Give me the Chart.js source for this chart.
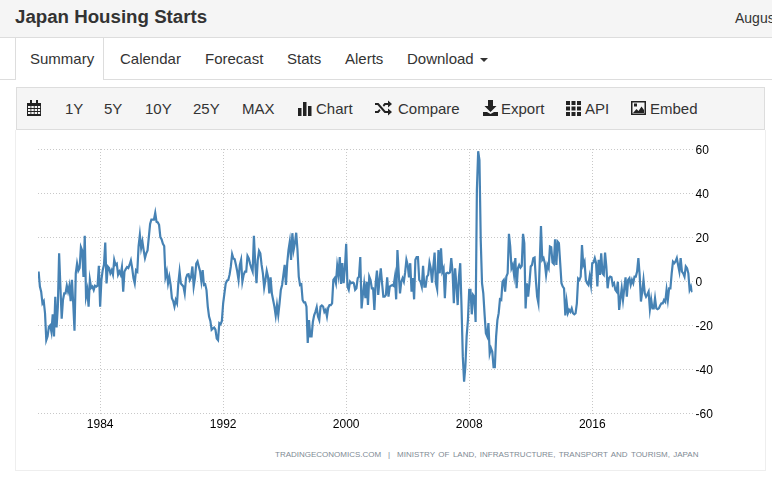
<!DOCTYPE html>
<html>
<head>
<meta charset="utf-8">
<title>Japan Housing Starts</title>
<script src="https://cdn.jsdelivr.net/npm/chart.js@4/dist/chart.umd.min.js"></script>
<style>
  html, body { margin: 0; padding: 0; background: #fff; overflow: hidden; }
  body { width: 772px; height: 477px; position: relative; font-family: "Liberation Sans", Arial, sans-serif; color: #333; }
  #header { position: absolute; left: 0; top: 0; width: 772px; height: 37px; background: #f5f5f5; border-bottom: 1px solid #ddd; overflow: hidden; }
  #title { position: absolute; left: 15px; top: 6px; font-size: 18.7px; line-height: 22px; font-weight: bold; color: #333; }
  #date { position: absolute; left: 735px; top: 9px; font-size: 14px; line-height: 18px; white-space: nowrap; }
  #tabline { position: absolute; left: 0; top: 79px; width: 772px; height: 0; border-top: 1px solid #ddd; }
  #activetab { position: absolute; left: 15px; top: 38px; width: 89px; height: 42px; background: #fff; border-left: 1px solid #ddd; border-right: 1px solid #ddd; box-sizing: border-box; }
  .nav { position: absolute; top: 49px; font-size: 15px; line-height: 19px; white-space: nowrap; }
  #caret { position: absolute; left: 480px; top: 58px; width: 0; height: 0; border-left: 4px solid transparent; border-right: 4px solid transparent; border-top: 4px solid #333; }
  #toolbar { position: absolute; left: 16px; top: 87px; width: 749px; height: 43px; box-sizing: border-box; background: #f5f5f5; border: 1px solid #ddd; }
  .tool { position: absolute; top: 99px; font-size: 15px; line-height: 19px; white-space: nowrap; }
  svg.icon { position: absolute; top: 100px; fill: #222; }
  #panel { position: absolute; left: 15px; top: 130px; width: 751px; height: 341px; box-sizing: border-box; border: 1px solid #eee; border-top: 0; }
  #box { position: absolute; left: 0; top: 130px; width: 772px; height: 310px; }
  #source { position: absolute; left: 275px; top: 450px; font-size: 8px; line-height: 10px; color: #808a94; letter-spacing: 0; word-spacing: 1.2px; white-space: nowrap; }
</style>
</head>
<body>
<div id="header">
  <div id="title">Japan Housing Starts</div>
  <div id="date">August</div>
</div>
<div id="tabline"></div>
<div id="activetab"></div>
<span class="nav" style="left:30px">Summary</span>
<span class="nav" style="left:120px">Calendar</span>
<span class="nav" style="left:205px">Forecast</span>
<span class="nav" style="left:287px">Stats</span>
<span class="nav" style="left:345px">Alerts</span>
<span class="nav" style="left:407px">Download</span>
<div id="caret"></div>

<div id="toolbar"></div>
<svg class="icon" style="left:27px" width="14" height="16" viewBox="0 0 14 16"><path d="M0 3h14v13H0zM3 0h2v3H3zM9 0h2v3H9z"/><path fill="#f5f5f5" d="M1 6h2.5v2H1zM4.300 6h2.500v2H4.300zM7.600 6h2.500v2H7.600zM10.900 6h2.200v2h-2.200zM1 9h2.500v2H1zM4.300 9h2.500v2H4.300zM7.600 9h2.500v2H7.600zM10.900 9h2.200v2h-2.200zM1 12h2.500v2H1zM4.300 12h2.500v2H4.300zM7.600 12h2.500v2H7.600zM10.900 12h2.200v2h-2.200z"/></svg>
<span class="tool" style="left:65px">1Y</span>
<span class="tool" style="left:104px">5Y</span>
<span class="tool" style="left:145px">10Y</span>
<span class="tool" style="left:193px">25Y</span>
<span class="tool" style="left:242px">MAX</span>
<svg class="icon" style="left:298px" width="15" height="16" viewBox="0 0 15 16"><path d="M0 8h3.500v8H0zM5 2h3.500v14H5zM10 6h3.500v10H10z"/></svg>
<span class="tool" style="left:316px">Chart</span>
<svg class="icon" style="left:375px" width="17" height="16" viewBox="0 0 17 16"><path d="M0 3h3.500l7 8H13V8.500L17 12l-4 3.500V13H9.500l-7-8H0zM13 .5 17 4l-4 3.500V5h-2.500L9 6.800 7.700 5.300 9.500 3H13zM0 11h2.500l1.800-2.100 1.300 1.500L3.500 13H0z"/></svg>
<span class="tool" style="left:398px">Compare</span>
<svg class="icon" style="left:483px" width="15" height="16" viewBox="0 0 15 16"><path d="M5 0h5v6h3.500L7.500 12 1.500 6H5zM0 12h4l3.500 2 3.500-2h4v4H0z"/></svg>
<span class="tool" style="left:501px">Export</span>
<svg class="icon" style="left:566px" width="15" height="16" viewBox="0 0 15 16"><path d="M0 1h4v4H0zM5.500 1h4v4h-4zM11 1h4v4h-4zM0 6.500h4v4H0zM5.500 6.500h4v4h-4zM11 6.500h4v4h-4zM0 12h4v4H0zM5.500 12h4v4h-4zM11 12h4v4h-4z"/></svg>
<span class="tool" style="left:585px">API</span>
<svg class="icon" style="left:631px" width="15" height="16" viewBox="0 0 15 16"><path d="M0 1h15v14H0z"/><path fill="#f5f5f5" d="M1.500 2.500h12v11h-12z"/><path d="M2 13l3.500-4 2 2 3-4.500 2.500 3.500V13zM3 3.500h3v3H3z"/></svg>
<span class="tool" style="left:650px">Embed</span>

<div id="panel"></div>
<div id="box"><canvas id="myChart" width="772" height="310"></canvas></div>
<div id="source">TRADINGECONOMICS.COM &nbsp;|&nbsp; MINISTRY OF LAND, INFRASTRUCTURE, TRANSPORT AND TOURISM, JAPAN</div>

<script>
// year over year change, one row per year from january
const values1980s = [
  4.4,-2.4,-4.7,-10,-9,-14.5,-26.7,-25,-20.6,-20,-23,-15,
  -25,-7,-21,-11.5,12.7,-2.4,-17,-8.5,-5.5,-5.5,-2,-4.7,
  -2,-9,0.6,-10,-22.4,3.6,8,4.8,6,15.5,14,2,
  20.6,-7,-4,-11.5,0.6,-3,-2.4,-4,-2,-2.4,-2,7,
  -11.5,0.6,5,7.5,17.6,-1,6.7,6,3.6,5,3,9.7,
  7.5,8,3,4.4,3,6.4,-4.7,4.4,5.5,6.4,6,7.5,
  9.4,6,1.4,-1,5,4.4,15.8,21,15,18,14,10.5,
  12.7,14,20,26,28,28,28,31,27,26.7,25.6,20,
  19,17,16,2,4.4,-1,2,-1.7,-7.7,-9,-11.5,-8.5,
  -10,-1,4.4,-1,-1.7,-2.4,-5.5,1.4,3,3.2,0.6,2
];
const values1990s = [
  6.7,-2.4,1.4,8,9,6.7,4.4,0,5.1,-1.7,-1.4,-4,
  -11.5,-16,-18,-22,-21.4,-21,-22,-26,-26.7,-19,-19.5,-18,
  -10,-5.5,-1,0.3,0.6,3,6.7,12.3,10.3,10,7.4,4.4,
  0.6,7.4,9.7,-0.2,2.9,4.4,4.4,11.5,10.4,7.9,6,4.4,
  20.6,8.2,-0.9,9.7,13.8,12.7,7.4,3.6,-2.9,0.6,4.7,2.1,
  -5.5,1.8,-5.5,-8.5,-11.5,-15.6,-10.8,-15.3,-10,-3.9,-1.7,2.9,
  7.4,-1.7,8.2,14.2,18,9.7,21.8,14.2,17.3,22,14.2,2.1,
  -1.7,-1.4,-8.5,-9.6,-9.6,-11.5,-28,-17.6,-25,-25,-18.5,-15.5,
  -13.9,-11.8,-16,-17.6,-11.5,-11,-11.5,-13.9,-13,-16,-12,-10.8,
  -10.8,-10,0.6,1.4,-0.9,7,2.9,11,-1.2,8.2,-0.9,6
];
const values2000s = [
  17,-2.4,-3.9,-0.2,-0.9,-0.6,-0.9,-3.9,-3.2,1.4,2.1,11,
  -12.3,-6.2,-1.2,-7.7,-0.2,-10.8,2.1,0.6,-3.2,-3.2,-13,-0.9,
  4.8,-6.2,0.6,5.9,-0.9,-7,-7,-6.2,1.8,-7,-2.4,-2,
  -1.7,-2.1,1.8,-8.2,14.2,3.6,-5.5,-0.2,1.4,-0.2,4,9.7,
  7.4,1.8,8.2,-4.7,1.4,-8.2,9.7,11,11,0.6,-0.2,-2.4,
  7,-2.4,-2.4,2.1,2.9,8.5,5.9,-0.6,6.7,13,-0.9,-3.6,
  14.2,3.6,15,4.4,5.9,-7.7,3.6,3.9,3.6,4,10.5,4.4,
  -10,5.9,-1.7,-10.8,2,8.2,-11.5,-34.2,-45.6,-38.8,-25,-17.6,
  -3.9,-3.9,-15,-6.2,-7,-18.5,41.5,59,55,18.5,-0.9,-5.5,
  -15,-23.6,-25,-19,-32.7,-30.4,-32,-39,-39,-25,-17.6,-14.5
];
const values2010s = [
  -8.2,-8.5,-0.2,0.6,-4.7,2.1,3.6,21.5,15.8,5.9,7.4,2.9,
  10.5,-3.2,5.9,7.4,6.2,7,21.5,17.3,-12.3,-0.9,-7,-0.9,
  6.7,7.4,10.5,10.8,0.6,-7,-10,8,25,9.7,10.5,8.2,
  2.9,7.4,5.9,15.8,15.5,8.5,7.9,19,7.4,18,17.3,8.2,
  -0.9,-2.4,-3.2,-15.5,-9.3,-14.5,-13,-13.9,-12.3,-14.5,-15,-14.5,
  -10,1.2,0.6,2.1,16.4,7.4,8.9,0.6,-0.9,-1.7,2.1,-1.7,
  8.2,8.5,10.5,8.2,-2.4,9.7,2.9,12.7,3.6,2.9,13,6.7,
  -3.2,1.4,2.1,1.8,-1.7,-0.9,-3.9,-4.7,-0.2,-13,-8,-3.2,
  -8.5,-3.2,1.8,-7,0.6,1.4,-1.7,0.6,-0.9,2.1,2.1,4.4,
  10.5,2.9,-9.2,-4.7,0.6,-5.5,-7,-6,-4.7,-12.7,-8.2,-12.3
];
const values2020s = [
  -12.3,-7.7,-12.3,-12.7,-12.3,-11,-10,-10,-8.5,-9.3,-3.9,-8.5,
  -3.2,-3.2,3.6,8.9,8.2,9,10.5,7.4,4.4,10.5,4.4,3.6,
  2.1,6.7,5.9,3.6,-3.9,-2.4,-5
];
const startYear = 1980;
const xTicks = [1984, 1992, 2000, 2008, 2016];
const yTicks = [60, 40, 20, 0, -20, -40, -60];

const allValues = values1980s.concat(values1990s, values2000s, values2010s, values2020s);
// first value is january 1980, then one point per month
const points = allValues.map((v, i) => ({ x: startYear + i / 12, y: v }));

const dotted = {
  color: "#c8c8c8",
  lineWidth: 1,
  drawTicks: false
};

// the y labels sit a bit high with canvas middle baseline, push them down
const nudgeLabels = {
  id: "nudgeLabels",
  afterLayout(chart) {
    const scale = chart.scales.y;
    if (scale.nudged) return;
    scale.nudged = true;
    const drawLabels = scale.drawLabels;
    scale.drawLabels = function (area) {
      chart.ctx.save();
      chart.ctx.translate(0, 1.5);
      drawLabels.call(this, area);
      chart.ctx.restore();
    };
  }
};

new Chart(document.getElementById("myChart").getContext("2d"), {
  type: "line",
  data: {
    datasets: [{
      label: "Japan Housing Starts",
      data: points,
      borderColor: "#4682b4",
      borderWidth: 2.2,
      pointRadius: 0,
      tension: 0
    }]
  },
  plugins: [nudgeLabels],
  options: {
    responsive: false,
    animation: false,
    layout: { padding: { left: 38, top: 19 } },
    plugins: { legend: { display: false }, tooltip: { enabled: false } },
    scales: {
      x: {
        type: "linear",
        min: 1979.96,
        max: 2022.52,
        grid: dotted,
        border: { display: false, dash: [1, 2] },
        afterBuildTicks: (axis) => { axis.ticks = xTicks.map(v => ({ value: v })); },
        afterFit: (axis) => { axis.height = 26.5; },
        ticks: {
          autoSkip: false,
          maxRotation: 0,
          padding: 4,
          color: "#000",
          font: { family: "Liberation Sans", size: 12 },
          callback: (v) => String(v)
        }
      },
      y: {
        position: "right",
        min: -60,
        max: 60,
        grid: dotted,
        border: { display: false, dash: [1, 2] },
        afterBuildTicks: (axis) => { axis.ticks = yTicks.map(v => ({ value: v })); },
        afterFit: (axis) => { axis.width = 79.5; },
        ticks: {
          autoSkip: false,
          padding: 3,
          crossAlign: "near",
          color: "#000",
          font: { family: "Liberation Sans", size: 12 },
          callback: (v) => String(v)
        }
      }
    }
  }
});
</script>
</body>
</html>
